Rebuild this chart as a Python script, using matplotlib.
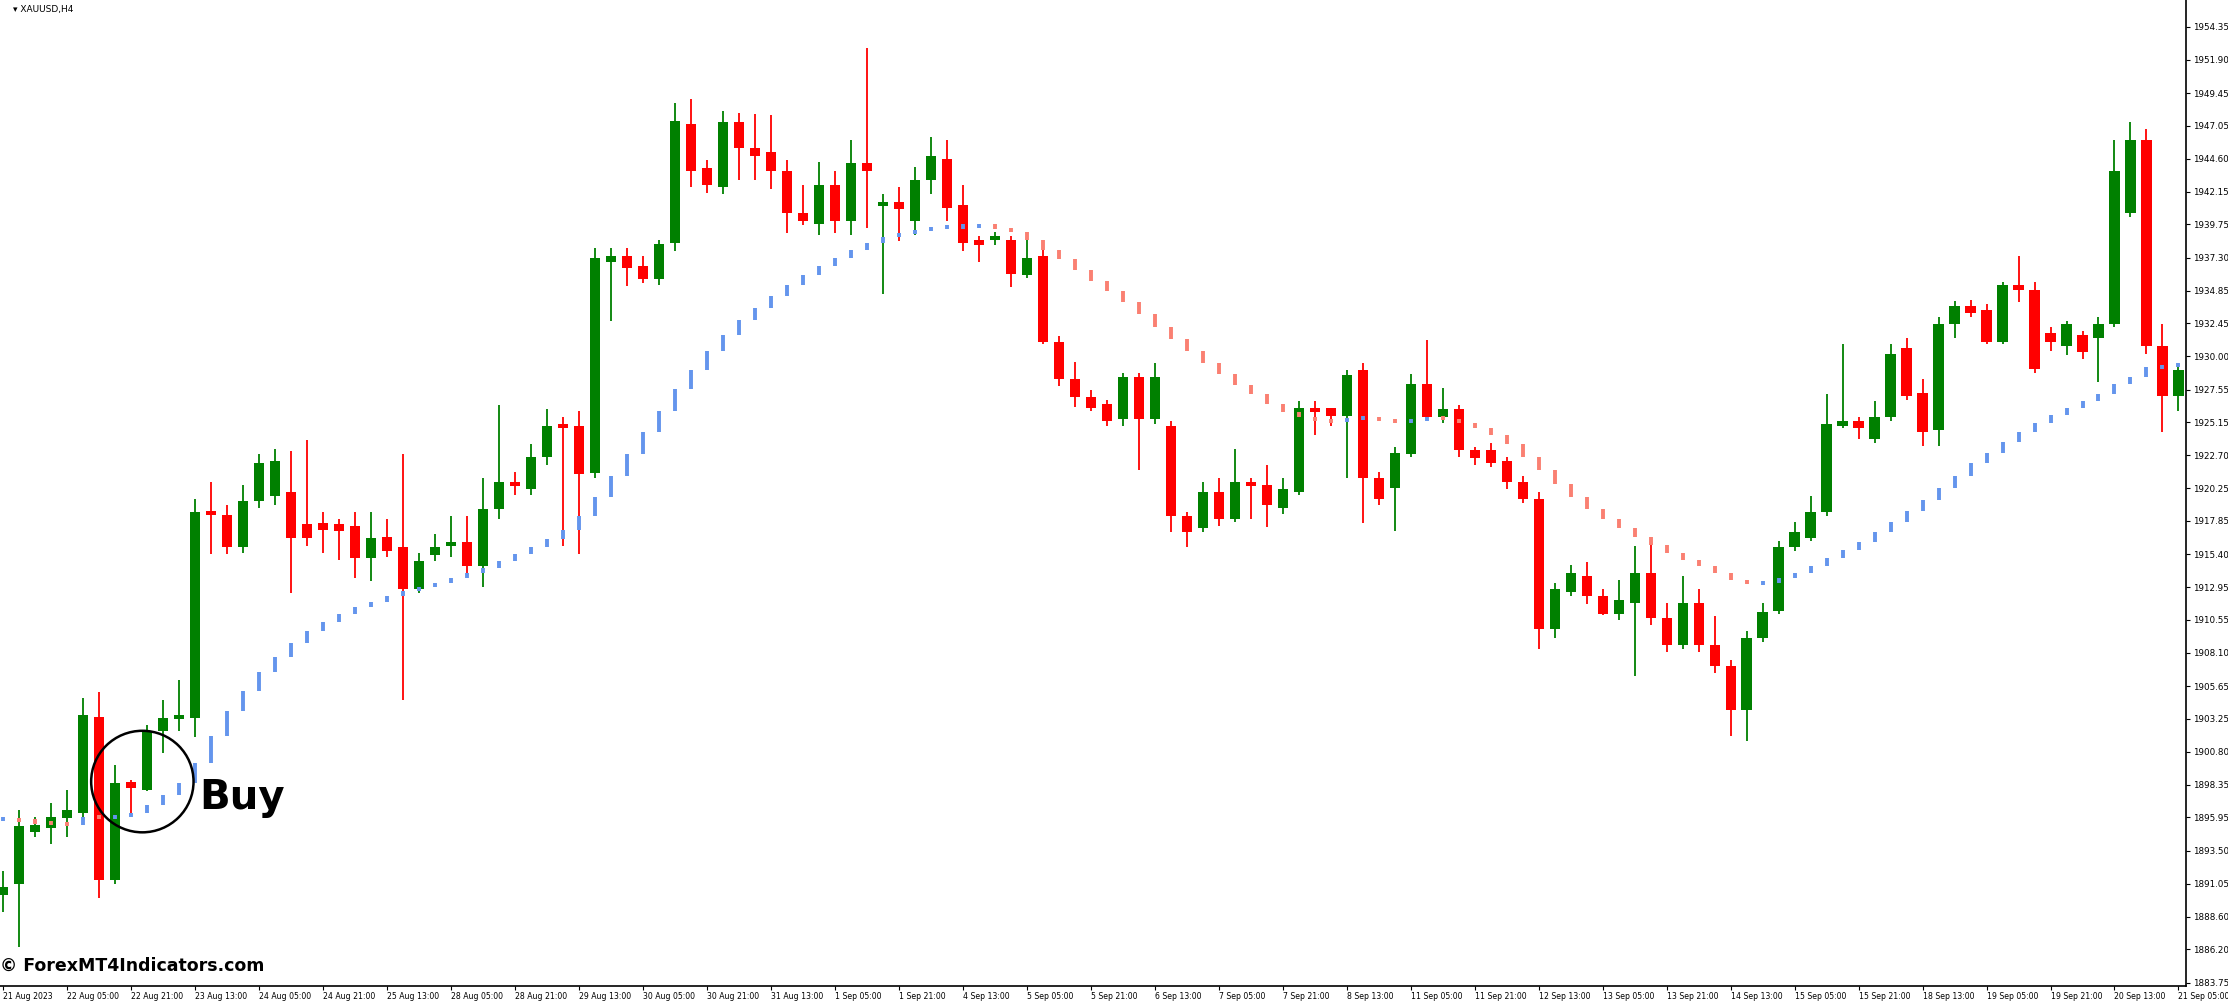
import matplotlib
matplotlib.use("Agg")
import matplotlib.pyplot as plt
from matplotlib.patches import Ellipse
import numpy as np

opens = [1890.2,1891,1894.9,1895.2,1895.9,1896.3,1903.4,1891.3,1898.6,1898,1902.3,1903.2,1903.3,1918.5,1918.3,1915.9,1919.3,1919.7,1920,1917.6,
1917.7,1917.6,1917.5,1915.1,1916.7,1915.9,1912.8,1915.3,1916.0,1916.3,1914.5,1918.7,1920.7,1920.2,1922.6,1925,1924.9,1921.4,1937,1937.4,
1936.7,1935.7,1938.4,1947.2,1943.9,1942.5,1947.3,1945.4,1945.1,1943.7,1940.6,1939.8,1942.7,1940,1944.3,1941.1,1941.4,1940,1943,1944.6,
1941.2,1938.6,1938.6,1938.6,1936.0,1937.4,1931.1,1928.3,1927,1926.5,1925.4,1928.5,1925.4,1924.9,1918.2,1917.3,1920,1918,1920.7,1920.5,
1918.8,1920,1926.2,1926.2,1925.6,1929,1921,1920.3,1922.8,1928,1925.5,1926.1,1923.1,1923.1,1922.3,1920.7,1919.5,1909.9,1912.6,1913.8,
1912.3,1911,1911.8,1914,1910.7,1908.7,1911.8,1908.7,1907.1,1903.9,1909.2,1911.2,1915.9,1916.6,1918.5,1924.9,1925.2,1923.9,1925.5,1930.6,
1927.3,1924.6,1932.4,1933.7,1933.4,1931.1,1935.3,1934.9,1931.7,1930.8,1931.6,1931.4,1932.4,1940.6,1946,1930.8,1927.1]
highs = [1892,1896.5,1896,1897,1898,1904.8,1905.2,1899.8,1898.7,1902.8,1904.6,1906.1,1919.5,1920.7,1919,1920.5,1922.8,1923.2,1923,1923.8,
1918.5,1918,1918.5,1918.5,1918,1922.8,1915.5,1916.9,1918.2,1918.2,1921,1926.4,1921.5,1923.5,1926.1,1925.5,1926,1938,1938,1938.0,
1937.4,1938.6,1948.7,1949,1944.5,1948.1,1948,1947.9,1947.8,1944.5,1942.7,1944.4,1943.7,1946,1952.8,1942,1942.5,1944,1946.2,1946,
1942.7,1938.9,1939.2,1938.9,1938.6,1938.2,1931.5,1929.6,1927.5,1926.8,1928.8,1928.8,1929.5,1925.2,1918.5,1920.7,1921,1923.2,1921,1922,
1921,1926.7,1926.7,1926.2,1929,1929.5,1921.5,1923.3,1928.7,1931.2,1927.7,1926.4,1923.3,1923.6,1922.6,1921.2,1920,1913.3,1914.6,1914.8,
1912.8,1913.5,1916,1916.3,1911.8,1913.8,1912.8,1910.8,1907.6,1909.7,1911.8,1916.4,1917.8,1919.7,1927.2,1930.9,1925.5,1926.7,1930.9,1931.4,
1928.3,1932.9,1934.1,1934.2,1933.9,1935.5,1937.4,1935.5,1932.2,1932.6,1931.9,1932.9,1946,1947.3,1946.8,1932.4,1929.5]
lows = [1889,1886.4,1894.5,1894,1894.5,1896,1890.0,1891,1896.2,1897.9,1900.7,1902.3,1901.9,1915.4,1915.4,1915.5,1918.8,1919,1912.5,1916,
1915.5,1915,1913.6,1913.4,1915.2,1904.6,1912.5,1914.9,1915.2,1913.8,1913,1918,1919.8,1919.8,1922,1916,1915.4,1921,1932.6,1935.2,
1935.4,1935.3,1937.8,1942.5,1942.1,1942,1943,1943.0,1942.4,1939.1,1939.7,1939,1939.1,1939,1939.5,1934.6,1938.5,1939,1942,1940,
1937.8,1937.0,1938.2,1935.1,1935.8,1930.9,1927.8,1926.3,1926,1924.9,1924.9,1921.6,1925,1917,1915.9,1917,1917.5,1917.8,1918,1917.4,
1918.4,1919.8,1924.2,1924.9,1921,1917.7,1919,1917.1,1922.6,1925.2,1925.1,1922.6,1922.0,1921.8,1920.2,1919.2,1908.4,1909.2,1912.3,1911.7,
1910.9,1910.5,1906.4,1910.2,1908.2,1908.4,1908.2,1906.6,1902,1901.6,1908.9,1911,1915.6,1916.4,1918.2,1924.7,1923.9,1923.6,1925.2,1926.8,
1923.4,1923.4,1931.4,1932.9,1930.9,1930.9,1934.0,1928.8,1930.4,1930.1,1929.8,1928.1,1932.2,1940.3,1930.2,1924.4,1926.0]
closes = [1890.8,1895.3,1895.4,1896,1896.5,1903.5,1891.3,1898.5,1898.1,1902.3,1903.3,1903.3,1918.5,1918.3,1915.9,1919.3,1922.1,1922.3,1916.6,1916.6,
1917.2,1917.1,1915.1,1916.6,1915.6,1912.8,1914.9,1915.9,1916.3,1914.5,1918.7,1920.7,1920.4,1922.6,1924.9,1924.7,1921.3,1937.3,1937.4,1936.5,
1935.7,1938.3,1947.4,1943.7,1942.7,1947.3,1945.4,1944.8,1943.7,1940.6,1940.0,1942.7,1940,1944.3,1943.7,1941.4,1940.9,1943,1944.8,1941,
1938.4,1938.2,1938.9,1936.1,1937.3,1931.1,1928.3,1927,1926.2,1925.2,1928.5,1925.4,1928.5,1918.2,1917,1920,1918,1920.7,1920.4,1919,
1920.2,1926.2,1925.9,1925.6,1928.6,1921,1919.5,1922.9,1928,1925.5,1926.1,1923.1,1922.5,1922.1,1920.7,1919.5,1909.9,1912.8,1914,1912.3,
1911,1912,1914,1910.7,1908.7,1911.8,1908.7,1907.1,1903.9,1909.2,1911.1,1915.9,1917,1918.5,1925,1925.2,1924.7,1925.5,1930.2,1927.1,
1924.4,1932.4,1933.7,1933.2,1931.1,1935.3,1934.9,1929.1,1931.1,1932.4,1930.3,1932.4,1943.7,1946,1930.8,1927.1,1929]
trend = [1895.8,1895.7,1895.6,1895.5,1895.4,1896.0,1895.9,1896.0,1896.3,1896.9,1897.6,1898.5,1900.0,1902.0,1903.8,1905.3,1906.7,1907.8,1908.8,1909.7,
1910.4,1911.0,1911.5,1911.9,1912.3,1912.7,1913.0,1913.3,1913.6,1914.0,1914.4,1914.9,1915.4,1915.9,1916.5,1917.2,1918.2,1919.6,1921.2,1922.8,
1924.4,1926.0,1927.6,1929.0,1930.4,1931.6,1932.7,1933.6,1934.5,1935.3,1936.0,1936.7,1937.3,1937.9,1938.4,1938.8,1939.1,1939.3,1939.5,1939.6,
1939.6,1939.7,1939.5,1939.2,1938.6,1937.9,1937.2,1936.4,1935.6,1934.8,1934.0,1933.1,1932.2,1931.3,1930.4,1929.5,1928.7,1927.9,1927.2,1926.5,
1925.9,1925.5,1925.3,1925.2,1925.4,1925.5,1925.3,1925.2,1925.3,1925.5,1925.4,1925.1,1924.7,1924.2,1923.5,1922.6,1921.6,1920.6,1919.6,1918.7,
1918.0,1917.3,1916.7,1916.1,1915.5,1915.0,1914.5,1914.0,1913.5,1913.2,1913.3,1913.6,1914.0,1914.5,1915.1,1915.7,1916.3,1917.0,1917.8,1918.6,
1919.4,1920.3,1921.2,1922.1,1922.9,1923.7,1924.4,1925.1,1925.7,1926.2,1926.7,1927.2,1928.0,1928.5,1929.2,1929.3,1929.4]
price_ticks = [1883.75,1886.20,1888.60,1891.05,1893.50,1895.95,1898.35,1900.80,1903.25,1905.65,1908.10,1910.55,1912.95,1915.40,
1917.85,1920.25,1922.70,1925.15,1927.55,1930.00,1932.45,1934.85,1937.30,1939.75,1942.15,1944.60,1947.05,1949.45,1951.90,1954.35]
time_labels = ["21 Aug 2023","22 Aug 05:00","22 Aug 21:00","23 Aug 13:00","24 Aug 05:00","24 Aug 21:00","25 Aug 13:00","28 Aug 05:00",
"28 Aug 21:00","29 Aug 13:00","30 Aug 05:00","30 Aug 21:00","31 Aug 13:00","1 Sep 05:00","1 Sep 21:00","4 Sep 13:00","5 Sep 05:00",
"5 Sep 21:00","6 Sep 13:00","7 Sep 05:00","7 Sep 21:00","8 Sep 13:00","11 Sep 05:00","11 Sep 21:00","12 Sep 13:00","13 Sep 05:00",
"13 Sep 21:00","14 Sep 13:00","15 Sep 05:00","15 Sep 21:00","18 Sep 13:00","19 Sep 05:00","19 Sep 21:00","20 Sep 13:00","21 Sep 05:00"]

NARROW = ["DejaVu Sans Condensed", "Liberation Sans Narrow", "DejaVu Sans"]

o, h, l, c, t = map(np.array, (opens, highs, lows, closes, trend))
x = np.arange(len(o))
GREEN, RED = "#008000", "#ff0000"
BLUE, SALMON = "#6495ed", "#fa8072"

fig = plt.figure(figsize=(22.28, 10.01), dpi=100)
ax = fig.add_axes([0.0, 0.015, 0.981, 0.985])
up = c >= o
col = np.where(up, GREEN, RED)
ax.vlines(x, l, h, colors=col, linewidth=1.3, zorder=2)
bot = np.minimum(o, c)
hgt = np.maximum(np.abs(c - o), 0.3)
ax.bar(x, hgt, bottom=bot, width=0.64, color=col, linewidth=0, zorder=3)

for i in range(len(t)):
    prev = t[i - 1] if i > 0 else t[i]
    lo, hi = min(prev, t[i]), max(prev, t[i])
    if hi - lo < 0.3:
        m = (hi + lo) / 2; lo, hi = m - 0.15, m + 0.15
    colr = BLUE if t[i] >= prev else SALMON
    ax.vlines(x[i], lo, hi, colors=colr, linewidth=2.8, zorder=4)

ax.add_patch(Ellipse((8.7, 1898.6), 6.4, 7.5, fill=False, edgecolor="black", linewidth=1.8, zorder=5))
ax.text(8.7 + 3.55, 1897.4, "Buy", fontsize=29, fontweight="bold", va="center", ha="left", zorder=6)
ax.text(-0.2, 1885.0, "© ForexMT4Indicators.com", fontsize=12.5, fontweight="bold", va="center", ha="left", family=NARROW)
ax.text(0.006, 0.995, "▾ XAUUSD,H4", transform=ax.transAxes, fontsize=6.5, va="top", ha="left", family=NARROW)

ax.set_xlim(-0.2, 136.45)
ax.set_ylim(1883.5, 1956.33)
ax.yaxis.tick_right()
ax.set_yticks(price_ticks)
ax.set_yticklabels([f"{v:.2f}" for v in price_ticks], fontsize=6.3, family=NARROW)
ax.set_xticks(x[::4])
ax.set_xticklabels(time_labels, fontsize=5.6, ha="left", family=NARROW)
ax.tick_params(axis="x", length=3, pad=1)
ax.tick_params(axis="y", length=3, pad=2)
for s in ["top", "left"]:
    ax.spines[s].set_visible(False)
ax.spines["right"].set_linewidth(1.2)
ax.spines["bottom"].set_linewidth(1.2)
fig.savefig("out.png", dpi=100)
